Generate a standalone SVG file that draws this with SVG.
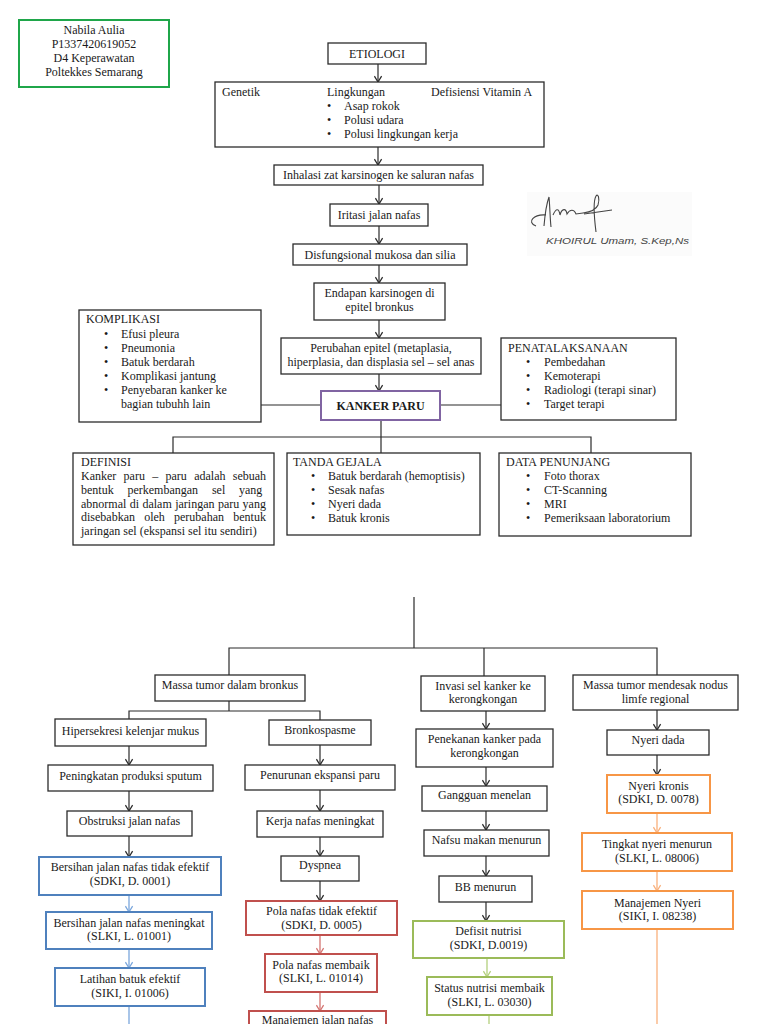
<svg xmlns="http://www.w3.org/2000/svg" width="768" height="1024" viewBox="0 0 768 1024">
<style>
.t{font-family:"Liberation Serif","Times New Roman",serif;font-size:12px;fill:#1a1a1a}
.c{text-anchor:middle}
.b{font-weight:bold}
.box{fill:#fff;stroke:#2b2b2b;stroke-width:1.3}
.bl{fill:#fff;stroke:#4f81bd;stroke-width:2}
.rd{fill:#fff;stroke:#c0504d;stroke-width:2}
.gr{fill:#fff;stroke:#9bbb59;stroke-width:2}
.or{fill:#fff;stroke:#f79646;stroke-width:2}
.ln{fill:none;stroke:#2b2b2b;stroke-width:1.2}
.ar{fill:none;stroke:#2b2b2b;stroke-width:1.2;marker-end:url(#ak)}
.arb{fill:none;stroke:#7aa6dc;stroke-width:1.3;marker-end:url(#ab)}
.arr{fill:none;stroke:#d47471;stroke-width:1.3;marker-end:url(#arr)}
.arg{fill:none;stroke:#b3cf7d;stroke-width:1.3;marker-end:url(#ag)}
.aro{fill:none;stroke:#f9b07c;stroke-width:1.3;marker-end:url(#ao)}
</style>
<defs>
<marker id="ak" viewBox="0 0 10 10" refX="5" refY="9.5" markerWidth="9" markerHeight="9" markerUnits="userSpaceOnUse"><path d="M1,3 L5,9.5 L9,3" fill="none" stroke="#2b2b2b" stroke-width="1.4"/></marker>
<marker id="ab" viewBox="0 0 10 10" refX="5" refY="9.5" markerWidth="9" markerHeight="9" markerUnits="userSpaceOnUse"><path d="M1,3 L5,9.5 L9,3" fill="none" stroke="#7aa6dc" stroke-width="1.4"/></marker>
<marker id="arr" viewBox="0 0 10 10" refX="5" refY="9.5" markerWidth="9" markerHeight="9" markerUnits="userSpaceOnUse"><path d="M1,3 L5,9.5 L9,3" fill="none" stroke="#d47471" stroke-width="1.4"/></marker>
<marker id="ag" viewBox="0 0 10 10" refX="5" refY="9.5" markerWidth="9" markerHeight="9" markerUnits="userSpaceOnUse"><path d="M1,3 L5,9.5 L9,3" fill="none" stroke="#b3cf7d" stroke-width="1.4"/></marker>
<marker id="ao" viewBox="0 0 10 10" refX="5" refY="9.5" markerWidth="9" markerHeight="9" markerUnits="userSpaceOnUse"><path d="M1,3 L5,9.5 L9,3" fill="none" stroke="#f9b07c" stroke-width="1.4"/></marker>
</defs>
<rect width="768" height="1024" fill="#fff"/>

<g id="connectors">
<line class="ar" x1="378" y1="64" x2="378" y2="82"/>
<line class="ar" x1="378" y1="147" x2="378" y2="165"/>
<line class="ar" x1="379" y1="185" x2="379" y2="204"/>
<line class="ar" x1="379" y1="226" x2="379" y2="244"/>
<line class="ar" x1="379" y1="265" x2="379" y2="283"/>
<line class="ar" x1="379" y1="320" x2="379" y2="338"/>
<line class="ar" x1="379" y1="374" x2="379" y2="391"/>
<line class="ln" x1="261" y1="405" x2="321" y2="405"/>
<line class="ln" x1="440" y1="405" x2="501" y2="405"/>
<path class="ln" d="M381,420 V453 M173,453 V437 H591 V453"/>
<path class="ln" d="M414,597 V648 M229,675 V648 H657 V675 M484,648 V676"/>
<path class="ln" d="M229,701 V711 M129,719 V711 H320 V720"/>
<line class="ar" x1="129" y1="746" x2="129" y2="765"/>
<line class="ar" x1="129" y1="791" x2="129" y2="811"/>
<line class="ar" x1="129" y1="836" x2="129" y2="857"/>
<line class="arb" x1="129" y1="895" x2="129" y2="912"/>
<line class="arb" x1="129" y1="949" x2="129" y2="968"/>
<line stroke="#7aa6dc" stroke-width="1.3" x1="129" y1="1006" x2="129" y2="1024"/>
<line class="ar" x1="320" y1="745" x2="320" y2="765"/>
<line class="ar" x1="320" y1="790" x2="320" y2="811"/>
<line class="ar" x1="320" y1="837" x2="320" y2="856"/>
<line class="ar" x1="320" y1="881" x2="320" y2="901"/>
<line class="arr" x1="320" y1="935" x2="320" y2="954"/>
<line class="arr" x1="320" y1="992" x2="320" y2="1011"/>
<line class="ar" x1="486" y1="711" x2="486" y2="729"/>
<line class="ar" x1="486" y1="767" x2="486" y2="786"/>
<line class="ar" x1="486" y1="811" x2="486" y2="830"/>
<line class="ar" x1="486" y1="856" x2="486" y2="876"/>
<line class="ar" x1="486" y1="902" x2="486" y2="921"/>
<line class="arg" x1="487" y1="958" x2="487" y2="977"/>
<line stroke="#b3cf7d" stroke-width="1.3" x1="489" y1="1015" x2="489" y2="1024"/>
<line class="ar" x1="657" y1="710" x2="657" y2="730"/>
<line class="ar" x1="657" y1="755" x2="657" y2="775"/>
<line class="aro" x1="657" y1="813" x2="657" y2="833"/>
<line class="aro" x1="657" y1="871" x2="657" y2="891"/>
<line stroke="#f9b07c" stroke-width="1.3" x1="657" y1="929" x2="657" y2="1024"/>
</g>

<g id="info">
<rect x="19" y="20" width="150" height="67" fill="#fff" stroke="#1fa64a" stroke-width="2"/>
<text class="t c" x="94" y="34">Nabila Aulia</text>
<text class="t c" x="94" y="48">P1337420619052</text>
<text class="t c" x="94" y="62">D4 Keperawatan</text>
<text class="t c" x="94" y="76">Poltekkes Semarang</text>
</g>

<g id="etiologi">
<rect class="box" x="328" y="43" width="98" height="21"/>
<text class="t c" x="377" y="58">ETIOLOGI</text>
</g>

<g id="etiologi-detail">
<rect class="box" x="215" y="82" width="329" height="65"/>
<text class="t" x="222" y="96">Genetik</text>
<text class="t" x="327" y="96">Lingkungan</text>
<text class="t" x="431" y="96">Defisiensi Vitamin A</text>
<text class="t" x="327" y="110">•</text><text class="t" x="344" y="110">Asap rokok</text>
<text class="t" x="327" y="124">•</text><text class="t" x="344" y="124">Polusi udara</text>
<text class="t" x="327" y="138">•</text><text class="t" x="344" y="138">Polusi lingkungan kerja</text>
</g>

<g id="inhalasi">
<rect class="box" x="274" y="165" width="209" height="20"/>
<text class="t c" x="378.5" y="179">Inhalasi zat karsinogen ke saluran nafas</text>
</g>

<g id="iritasi">
<rect class="box" x="330" y="204" width="98" height="22"/>
<text class="t c" x="379" y="219">Iritasi jalan nafas</text>
</g>

<g id="disfungsional">
<rect class="box" x="293" y="244" width="174" height="21"/>
<text class="t c" x="380" y="259">Disfungsional mukosa dan silia</text>
</g>

<g id="endapan">
<rect class="box" x="314" y="283" width="131" height="37"/>
<text class="t c" x="379.5" y="297">Endapan karsinogen di</text>
<text class="t c" x="379.5" y="311">epitel bronkus</text>
</g>

<g id="perubahan">
<rect class="box" x="281" y="338" width="200" height="36"/>
<text class="t c" x="381" y="352">Perubahan epitel (metaplasia,</text>
<text class="t c" x="381" y="366">hiperplasia, dan displasia sel – sel anas</text>
</g>

<g id="kanker-paru">
<rect x="321" y="391" width="119" height="29" fill="#fff" stroke="#8064a2" stroke-width="2"/>
<text class="t c b" x="380.5" y="410">KANKER PARU</text>
</g>

<g id="komplikasi">
<rect class="box" x="79" y="310" width="182" height="112"/>
<text class="t" x="86" y="323">KOMPLIKASI</text>
<text class="t" x="104" y="338">•</text><text class="t" x="121" y="338">Efusi pleura</text>
<text class="t" x="104" y="352">•</text><text class="t" x="121" y="352">Pneumonia</text>
<text class="t" x="104" y="366">•</text><text class="t" x="121" y="366">Batuk berdarah</text>
<text class="t" x="104" y="380">•</text><text class="t" x="121" y="380">Komplikasi jantung</text>
<text class="t" x="104" y="394">•</text><text class="t" x="121" y="394">Penyebaran kanker ke</text>
<text class="t" x="121" y="408">bagian tubuhh lain</text>
</g>

<g id="penatalaksanaan">
<rect class="box" x="501" y="338" width="175" height="82"/>
<text class="t" x="508" y="352">PENATALAKSANAAN</text>
<text class="t" x="526" y="366">•</text><text class="t" x="544" y="366">Pembedahan</text>
<text class="t" x="526" y="380">•</text><text class="t" x="544" y="380">Kemoterapi</text>
<text class="t" x="526" y="394">•</text><text class="t" x="544" y="394">Radiologi (terapi sinar)</text>
<text class="t" x="526" y="408">•</text><text class="t" x="544" y="408">Target terapi</text>
</g>

<g id="signature">
<rect x="527" y="192" width="165" height="64" fill="#fbfbfb"/>
<path d="M536,226 C526,222 534,214 546,215 M544,226 C545,214 546,205 549,197 C550,208 550,218 551,227 M553,215 C556,208 559,208 560,215 C562,208 566,208 567,214 C570,209 574,209 576,214 L583,213 C590,212 596,210 598,205 C600,198 598,193 596,196 C593,201 594,216 596,232 M584,214 L612,210" fill="none" stroke="#444" stroke-width="1.1"/>
<text x="546" y="244" font-family="Liberation Sans, Arial, sans-serif" font-size="9" font-style="italic" fill="#444" textLength="143" lengthAdjust="spacingAndGlyphs">KHOIRUL Umam, S.Kep,Ns</text>
</g>

<g id="definisi">
<rect class="box" x="73" y="453" width="201" height="92"/>
<text class="t" x="81" y="466">DEFINISI</text>
<text class="t" x="81" y="480" word-spacing="4.3">Kanker paru – paru adalah sebuah</text>
<text class="t" x="81" y="494" word-spacing="10.8">bentuk perkembangan sel yang</text>
<text class="t" x="81" y="508" word-spacing="0.4">abnormal di dalam jaringan paru yang</text>
<text class="t" x="81" y="521" word-spacing="6.2">disebabkan oleh perubahan bentuk</text>
<text class="t" x="81" y="535">jaringan sel (ekspansi sel itu sendiri)</text>
</g>

<g id="tanda-gejala">
<rect class="box" x="287" y="453" width="193" height="82"/>
<text class="t" x="293" y="466">TANDA GEJALA</text>
<text class="t" x="311" y="480">•</text><text class="t" x="328" y="480">Batuk berdarah (hemoptisis)</text>
<text class="t" x="311" y="494">•</text><text class="t" x="328" y="494">Sesak nafas</text>
<text class="t" x="311" y="508">•</text><text class="t" x="328" y="508">Nyeri dada</text>
<text class="t" x="311" y="522">•</text><text class="t" x="328" y="522">Batuk kronis</text>
</g>

<g id="data-penunjang">
<rect class="box" x="499" y="453" width="192" height="83"/>
<text class="t" x="506" y="466">DATA PENUNJANG</text>
<text class="t" x="526" y="480">•</text><text class="t" x="544" y="480">Foto thorax</text>
<text class="t" x="526" y="494">•</text><text class="t" x="544" y="494">CT-Scanning</text>
<text class="t" x="526" y="508">•</text><text class="t" x="544" y="508">MRI</text>
<text class="t" x="526" y="522">•</text><text class="t" x="544" y="522">Pemeriksaan laboratorium</text>
</g>

<g id="massa-tumor-bronkus">
<rect class="box" x="155" y="675" width="150" height="26"/>
<text class="t c" x="230" y="689">Massa tumor dalam bronkus</text>
</g>
<g id="invasi">
<rect class="box" x="421" y="676" width="124" height="35"/>
<text class="t c" x="483" y="690">Invasi sel kanker ke</text>
<text class="t c" x="483" y="703">kerongkongan</text>
</g>
<g id="massa-tumor-nodus">
<rect class="box" x="573" y="675" width="165" height="35"/>
<text class="t c" x="655.5" y="689">Massa tumor mendesak nodus</text>
<text class="t c" x="655.5" y="703">limfe regional</text>
</g>

<g id="hipersekresi">
<rect class="box" x="55" y="719" width="151" height="27"/>
<text class="t c" x="130.5" y="735">Hipersekresi kelenjar mukus</text>
</g>
<g id="peningkatan-sputum">
<rect class="box" x="48" y="765" width="165" height="26"/>
<text class="t c" x="130.5" y="780">Peningkatan produksi sputum</text>
</g>
<g id="obstruksi">
<rect class="box" x="67" y="811" width="125" height="25"/>
<text class="t c" x="129.5" y="825">Obstruksi jalan nafas</text>
</g>
<g id="bersihan-tidak-efektif">
<rect class="bl" x="39" y="857" width="182" height="38"/>
<text class="t c" x="130" y="871">Bersihan jalan nafas tidak efektif</text>
<text class="t c" x="130" y="885">(SDKI, D. 0001)</text>
</g>
<g id="bersihan-meningkat">
<rect class="bl" x="46" y="912" width="166" height="37"/>
<text class="t c" x="129" y="927">Bersihan jalan nafas meningkat</text>
<text class="t c" x="129" y="940">(SLKI, L. 01001)</text>
</g>
<g id="latihan-batuk">
<rect class="bl" x="55" y="968" width="150" height="38"/>
<text class="t c" x="130" y="983">Latihan batuk efektif</text>
<text class="t c" x="130" y="997">(SIKI, I. 01006)</text>
</g>

<g id="bronkospasme">
<rect class="box" x="269" y="720" width="102" height="25"/>
<text class="t c" x="320" y="734">Bronkospasme</text>
</g>
<g id="penurunan-ekspansi">
<rect class="box" x="245" y="765" width="150" height="25"/>
<text class="t c" x="320" y="779">Penurunan ekspansi paru</text>
</g>
<g id="kerja-nafas">
<rect class="box" x="257" y="811" width="126" height="26"/>
<text class="t c" x="320" y="825">Kerja nafas meningkat</text>
</g>
<g id="dyspnea">
<rect class="box" x="281" y="856" width="78" height="25"/>
<text class="t c" x="320" y="869">Dyspnea</text>
</g>
<g id="pola-tidak-efektif">
<rect class="rd" x="246" y="901" width="151" height="34"/>
<text class="t c" x="321.5" y="915">Pola nafas tidak efektif</text>
<text class="t c" x="321.5" y="929">(SDKI, D. 0005)</text>
</g>
<g id="pola-membaik">
<rect class="rd" x="265" y="954" width="112" height="38"/>
<text class="t c" x="321" y="969">Pola nafas membaik</text>
<text class="t c" x="321" y="982">(SLKI, L. 01014)</text>
</g>
<g id="manajemen-jalan-nafas">
<rect class="rd" x="249" y="1011" width="137" height="30"/>
<text class="t c" x="317.5" y="1024">Manajemen jalan nafas</text>
</g>

<g id="penekanan">
<rect class="box" x="416" y="729" width="137" height="38"/>
<text class="t c" x="484.5" y="743">Penekanan kanker pada</text>
<text class="t c" x="484.5" y="757">kerongkongan</text>
</g>
<g id="gangguan-menelan">
<rect class="box" x="422" y="786" width="125" height="25"/>
<text class="t c" x="484.5" y="799">Gangguan menelan</text>
</g>
<g id="nafsu-makan">
<rect class="box" x="424" y="830" width="125" height="26"/>
<text class="t c" x="486.5" y="844">Nafsu makan menurun</text>
</g>
<g id="bb-menurun">
<rect class="box" x="439" y="876" width="93" height="26"/>
<text class="t c" x="485.5" y="891">BB menurun</text>
</g>
<g id="defisit-nutrisi">
<rect class="gr" x="413" y="921" width="151" height="37"/>
<text class="t c" x="488.5" y="935">Defisit nutrisi</text>
<text class="t c" x="488.5" y="949">(SDKI, D.0019)</text>
</g>
<g id="status-nutrisi">
<rect class="gr" x="427" y="977" width="125" height="38"/>
<text class="t c" x="489.5" y="992">Status nutrisi membaik</text>
<text class="t c" x="489.5" y="1006">(SLKI, L. 03030)</text>
</g>

<g id="nyeri-dada">
<rect class="box" x="607" y="730" width="102" height="25"/>
<text class="t c" x="658" y="744">Nyeri dada</text>
</g>
<g id="nyeri-kronis">
<rect class="or" x="607" y="775" width="103" height="38"/>
<text class="t c" x="658.5" y="790">Nyeri kronis</text>
<text class="t c" x="658.5" y="803">(SDKI, D. 0078)</text>
</g>
<g id="tingkat-nyeri">
<rect class="or" x="582" y="833" width="150" height="38"/>
<text class="t c" x="657" y="848">Tingkat nyeri menurun</text>
<text class="t c" x="657" y="862">(SLKI, L. 08006)</text>
</g>
<g id="manajemen-nyeri">
<rect class="or" x="582" y="891" width="151" height="38"/>
<text class="t c" x="657.5" y="907">Manajemen Nyeri</text>
<text class="t c" x="657.5" y="920">(SIKI, I. 08238)</text>
</g>
</svg>
